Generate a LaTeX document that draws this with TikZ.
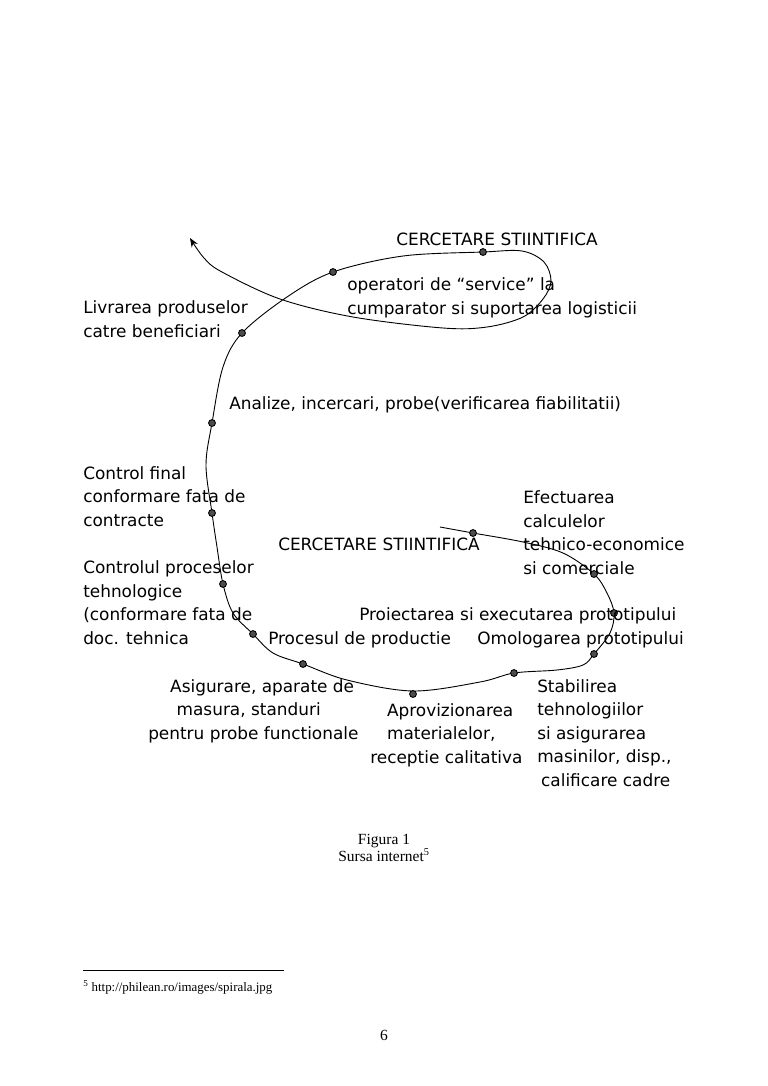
\documentclass[tikz,border=0pt]{standalone}
\usepackage{fontspec}
\setmainfont{Liberation Serif}
\newfontfamily\diag{DejaVu Sans}
\usetikzlibrary{arrows.meta}
\begin{document}
\begin{tikzpicture}[x=0.7747pt,y=-0.7747pt,
  lbl/.style={font=\diag\fontsize{13.1}{18.2}\selectfont, inner sep=0pt, anchor=base west, align=left},
  dotm/.style={circle, fill=black!70, draw=black, line width=0.7pt, minimum size=5.3pt, inner sep=0pt},
  spiral/.style={line width=0.7pt, -{Stealth[length=7pt,width=5.5pt]}},
  capt/.style={font=\fontsize{12}{13.8}\selectfont, inner sep=0pt, anchor=base}]
\useasboundingbox[fill=white] (0,0) rectangle (768,1086);

% points on the spiral
\coordinate (s0) at (440,527);
\coordinate (d1) at (473,533);
\coordinate (d2) at (594,574);
\coordinate (d3) at (614,613);
\coordinate (d4) at (594,654);
\coordinate (d5) at (514,673);
\coordinate (d6) at (413,691);
\coordinate (d7) at (303,664);
\coordinate (d8) at (253,634);
\coordinate (d9) at (223,584);
\coordinate (d10) at (212,513);
\coordinate (d11) at (212,423);
\coordinate (d12) at (242,333);
\coordinate (d13) at (333,272);
\coordinate (d14) at (483,252);
\coordinate (tip) at (190,238);

\draw[spiral] plot[smooth, tension=0.55] coordinates {
  (s0) (d1) (523,542) (563,553) (d2) (607,593) (d3) (610,633) (d4) (583,665)
  (557,670) (d5) (480,682) (d6) (347,680) (d7) (273,653) (d8) (233,613)
  (d9) (217,547) (d10) (206,465) (d11) (223,367) (d12) (287,297) (d13)
  (403,256) (d14) (522,251) (544,262) (551,281) (543,299) (523,317) (487,327)
  (443,328) (353,317) (280,299) (222,272) (204,258) (tip)};

\foreach \d in {d1,d2,d3,d4,d5,d7,d8,d9,d10,d11,d12,d13,d14}
  \node[dotm] at (\d) {};
\node[dotm] at (413,694) {};

% labels (anchor = baseline of the last line)
\node[lbl] (t1) at (396,245) {CERCETARE STIINTIFICA};
\node[lbl] (t2) at (347,314) {operatori de “service” la\\cumparator si suportarea logisticii};
\node[lbl] (t3) at (83,337) {Livrarea produselor\\catre beneficiari};
\node[lbl] (t4) at (229,409) {Analize, incercari, probe(verificarea fiabilitatii)};
\node[lbl] (t5) at (83,526) {Control final\\conformare fata de\\contracte};
\node[lbl] (t6) at (278,550) {CERCETARE STIINTIFICA};
\node[lbl] (t7) at (523,574) {Efectuarea\\calculelor\\tehnico-economice\\si comerciale};
\node[lbl] (t8) at (83,644) {Controlul proceselor\\tehnologice\\(conformare fata de\\doc. tehnica};
\node[lbl] (t9) at (359,620) {Proiectarea si executarea prototipului};
\node[lbl] (t10) at (268,644) {Procesul de productie};
\node[lbl] (t11) at (477,644) {Omologarea prototipului};
\node[lbl] (t12) at (148,739) {\hspace*{17pt}Asigurare, aparate de\\\hspace*{22pt}masura, standuri\\pentru probe functionale};
\node[lbl] (t13) at (370,763) {\hspace*{13pt}Aprovizionarea\\\hspace*{13pt}materialelor,\\receptie calitativa};
\node[lbl] (t14) at (537,786) {Stabilirea\\tehnologiilor\\si asigurarea\\masinilor, disp.,\\\hspace*{3pt}calificare cadre};

% caption, footnote, page number
\node[capt] (c1) at (384,844) {Figura 1};
\node[capt] (c2) at (384,861) {Sursa internet\textsuperscript{5}};
\draw[line width=0.5pt] (83,970) -- (284,970);
\node[font=\fontsize{10}{12}\selectfont, inner sep=0pt, anchor=base west] (fn) at (83,991) {\textsuperscript{5} http://philean.ro/images/spirala.jpg};
\node[capt] (pg) at (384,1040) {6};
\end{tikzpicture}
\end{document}
